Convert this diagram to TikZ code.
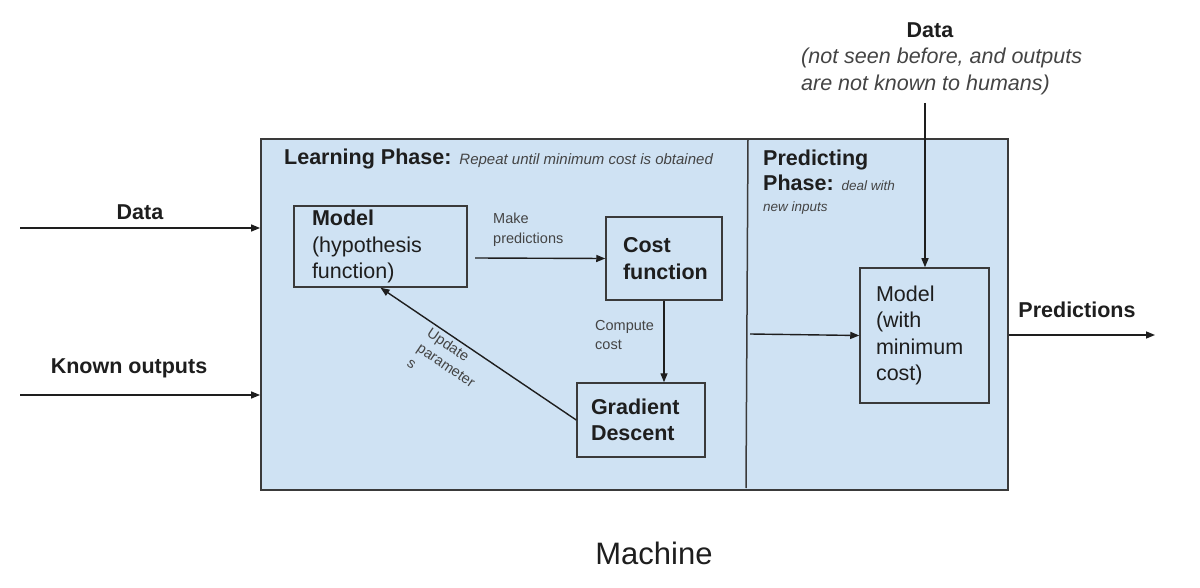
\documentclass[tikz,border=0pt]{standalone}
\usepackage{fontspec}
\setmainfont{Liberation Sans}
\usetikzlibrary{arrows.meta}
\definecolor{bluefill}{HTML}{CFE2F3}
\definecolor{edgec}{HTML}{3A3A3A}
\definecolor{txt}{HTML}{1E1E1E}
\definecolor{txtl}{HTML}{444444}
\begin{document}
\begin{tikzpicture}[x=1pt,y=-1pt,
  big/.style={font=\fontsize{21.5}{26.5}\selectfont, text=txt, inner sep=0pt},
  bigb/.style={font=\fontsize{21.5}{26.5}\selectfont\bfseries, text=txt, inner sep=0pt},
  small/.style={font=\fontsize{14.5}{19.5}\selectfont, text=txtl, inner sep=0pt},
  box/.style={draw=edgec, line width=1.5pt, align=left, inner ysep=0pt,
    font=\fontsize{21.5}{26.5}\selectfont, text=txt},
  arr/.style={draw=txt, line width=1.4pt, -{Triangle[length=9pt,width=7pt]}},
  plain/.style={draw=edgec, line width=1.5pt}
]
\useasboundingbox (0,0) rectangle (1200,588);
% machine
\node[draw=edgec, line width=1.8pt, fill=bluefill, minimum width=747pt, minimum height=351pt, inner sep=0pt] (machine) at (634.5,314.5) {};
\coordinate (divTop) at (748,139);
\coordinate (divBot) at (746,488);
\draw[plain] (divTop) -- (divBot);
% boxes
\node[box, minimum height=81pt, text width=137pt, inner xsep=18pt] (model) at (380.5,246.5)
  {\textbf{Model}\\(hypothesis\\function)};
\node[box, minimum height=83pt, text width=82pt, inner xsep=17pt] (cost) at (664,258.5)
  {\textbf{Cost}\\\textbf{function}};
\node[box, minimum height=74pt, text width=100pt, inner xsep=14pt] (gd) at (641,420)
  {\textbf{Gradient}\\\textbf{Descent}};
\node[box, minimum height=135pt, text width=97pt, inner xsep=16pt] (model2) at (924.5,335.5)
  {Model\\(with\\minimum\\cost)};
% inputs
\coordinate (dataIn) at (20,228);
\coordinate (knownIn) at (20,395);
\draw[arr] (dataIn) -- (dataIn -| machine.west);
\draw[arr] (knownIn) -- (knownIn -| machine.west);
\node[bigb] (dataLbl) at (140,212) {Data};
\node[bigb] (knownLbl) at (129,368) {Known outputs};
% learning phase
\node[big, anchor=base west] (learnLbl) at (284,165)
  {\textbf{Learning Phase:} {\fontsize{15}{17}\selectfont\itshape\color{txtl}Repeat until minimum cost is obtained}};
\coordinate (mpStart) at (475,258);
\draw[arr] (mpStart) -- (cost.west);
\node[small, anchor=west, align=left] (mpLbl) at (493,230) {Make\\predictions};
\draw[arr] (cost.south) -- (cost.south |- gd.north);
\node[small, anchor=west, align=left] (ccLbl) at (595,335) {Compute\\cost};
\draw[arr] (gd.west) -- (model.south);
\node[small, anchor=north west, align=left, rotate=-34, font=\fontsize{14.5}{18}\selectfont] (upLbl) at (432,327) {Update\\parameter\\s};
% predicting phase
\node[big, anchor=north west, align=left, font=\fontsize{21.5}{24.5}\selectfont] (predLbl) at (763,150)
  {\textbf{Predicting}\\\textbf{Phase:} {\fontsize{13.5}{16}\selectfont\itshape\color{txtl}deal with}\\[-3pt]{\fontsize{13.5}{16}\selectfont\itshape\color{txtl}new inputs}};
\coordinate (divOut) at (750,334);
\draw[arr] (divOut) -- (model2.west);
% new data
\node[bigb] (newData) at (930,30) {Data};
\node[big, anchor=west, align=left, font=\fontsize{21.5}{27}\selectfont\itshape, text=txtl] (newNote) at (801,71.5)
  {(not seen before, and outputs\\are not known to humans)};
\coordinate (newIn) at (925,103);
\draw[arr] (newIn) -- (model2.north -| newIn);
% output
\coordinate (predOut) at (1155,335);
\draw[arr] (predOut -| machine.east) -- (predOut);
\node[bigb] (predOutLbl) at (1077,310) {Predictions};
% machine label
\node[big, font=\fontsize{31}{36}\selectfont] (machLbl) at (654,553) {Machine};
\end{tikzpicture}
\end{document}
